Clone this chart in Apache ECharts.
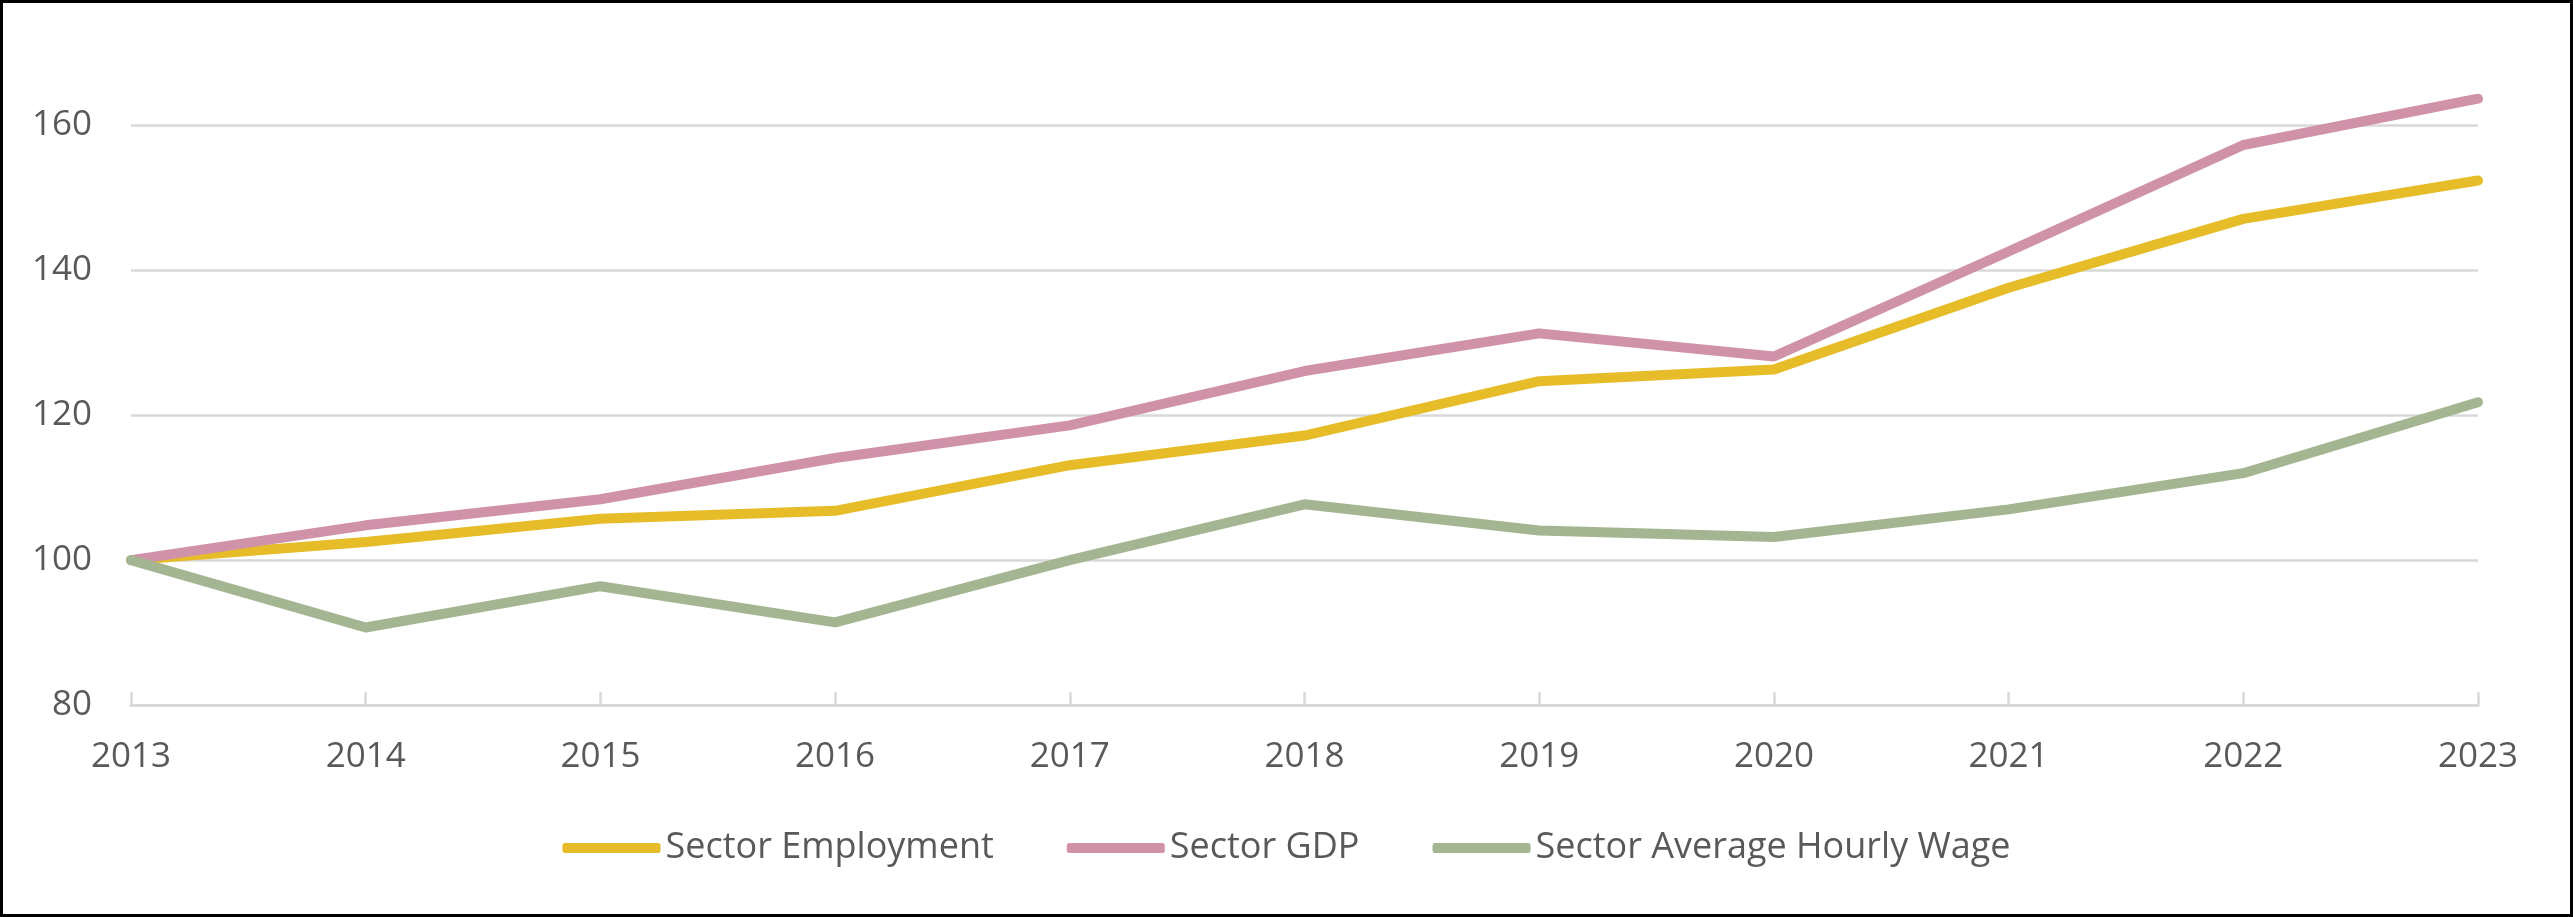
<!DOCTYPE html>
<html>
<head>
<meta charset="utf-8">
<script src="https://cdn.jsdelivr.net/npm/echarts@6/dist/echarts.min.js"></script>
<style>
  html, body { margin: 0; padding: 0; background: #fff; }
  #chart { width: 2573px; height: 917px; box-sizing: border-box; border: 3px solid #000; }
</style>
</head>
<body>
<div id="chart"></div>
<script>
// index values (2013 = 100)
const years = ["2013", "2014", "2015", "2016", "2017", "2018", "2019", "2020", "2021", "2022", "2023"];
const employment = [100, 102.5, 105.7, 106.8, 113.1, 117.2, 124.7, 126.3, 137.6, 147.1, 152.4];
const gdp = [100, 104.8, 108.4, 114.1, 118.6, 126.1, 131.3, 128.1, 142.6, 157.3, 163.7];
const wage = [100, 90.7, 96.4, 91.4, 100.0, 107.7, 104.1, 103.2, 107.0, 112.0, 121.8];

const chart = echarts.init(document.getElementById("chart"));

const lineSeries = (name, data, color) => ({
  name: name,
  type: "line",
  data: data,
  symbol: "none",
  lineStyle: { width: 10, color: color, cap: "round", join: "round" },
  itemStyle: { color: color },
});

const option = {
  animation: false,
  grid: { left: 128, right: 92, top: 50, bottom: 209 },
  legend: {
    bottom: 43,
    left: "center",
    icon: "roundRect",
    itemWidth: 98,
    itemHeight: 10,
    itemGap: 73,
    textStyle: { color: "#595959", fontSize: 36, fontFamily: "Open Sans" },
    data: ["Sector Employment", "Sector GDP", "Sector Average Hourly Wage"],
  },
  xAxis: {
    type: "category",
    data: years,
    boundaryGap: false,
    axisLine: { lineStyle: { color: "#d9d9d9", width: 3 } },
    axisTick: { inside: true, length: 13, lineStyle: { color: "#d9d9d9", width: 2.5 } },
    axisLabel: { color: "#595959", fontSize: 35, fontFamily: "Open Sans", margin: 35 },
    splitLine: { show: false },
  },
  yAxis: {
    type: "value",
    min: 80,
    max: 170,
    interval: 20,
    axisLine: { show: false },
    axisTick: { show: false },
    axisLabel: { color: "#595959", fontSize: 35, fontFamily: "Open Sans", margin: 39, showMaxLabel: false },
    splitLine: { showMaxLine: false, lineStyle: { color: "#d9d9d9", width: 2.5 } },
  },
  series: [
    lineSeries("Sector Employment", employment, "#e6bc29"),
    lineSeries("Sector GDP", gdp, "#d092a8"),
    lineSeries("Sector Average Hourly Wage", wage, "#a4b591"),
  ],
};

chart.setOption(option);
window.addEventListener("resize", () => chart.resize());
</script>
</body>
</html>
